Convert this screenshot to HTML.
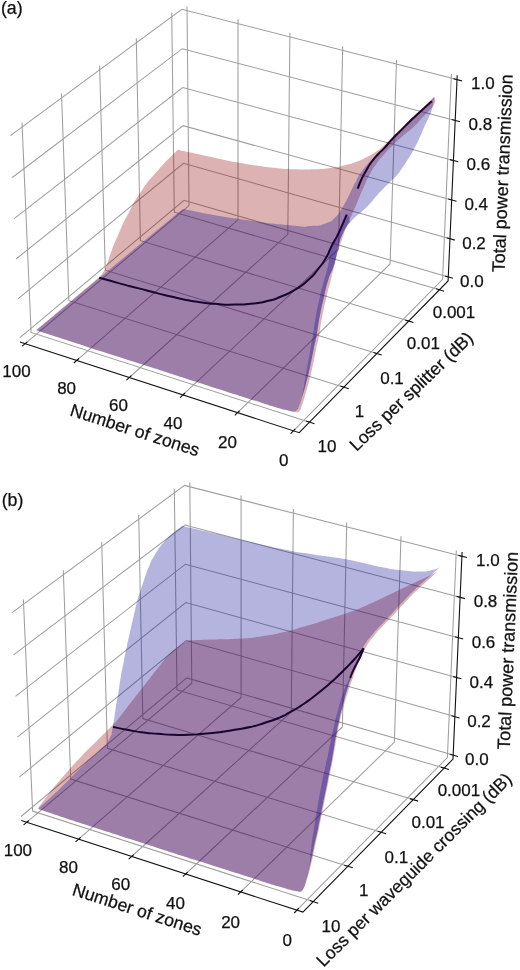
<!DOCTYPE html><html><head><meta charset="utf-8"><style>html,body{margin:0;padding:0;background:#fff}svg{display:block}</style></head><body><svg width="520" height="970" viewBox="0 0 520 970" font-family="Liberation Sans, Arial, sans-serif" font-size="15.5" fill="#111" stroke="#111" stroke-width="0.25">
<rect width="520" height="970" fill="#fff" stroke="none"/>
<g fill="none" stroke="#9e9e9e" stroke-width="1.05">
<polyline points="25.2,343.6 189.0,205.6 187.0,6.5"/>
<polyline points="76.8,360.4 238.0,219.8 238.0,19.5"/>
<polyline points="129.3,377.5 287.8,234.3 289.9,32.7"/>
<polyline points="182.9,394.9 338.5,249.0 342.7,46.2"/>
<polyline points="237.6,412.7 390.1,264.0 396.5,59.9"/>
<polyline points="293.4,430.8 442.6,279.3 451.4,73.9"/>
<polyline points="309.5,422.2 31.1,332.4 22.0,122.6"/>
<polyline points="343.8,387.2 68.9,300.7 61.5,93.5"/>
<polyline points="376.9,353.5 105.3,270.2 99.6,65.5"/>
<polyline points="408.7,321.1 140.4,240.7 136.3,38.6"/>
<polyline points="439.4,289.8 174.3,212.2 171.7,12.6"/>
<polyline points="448.3,276.9 184.0,200.3 19.7,337.8"/>
<polyline points="450.0,238.7 183.5,163.3 17.9,298.8"/>
<polyline points="451.7,199.9 183.1,125.7 16.0,259.0"/>
<polyline points="453.4,160.5 182.7,87.5 14.2,218.6"/>
<polyline points="455.2,120.4 182.3,48.7 12.3,177.5"/>
<polyline points="457.0,79.6 181.8,9.3 10.3,135.7"/>
</g>
<path d="M177.5,149.8 L177.5,149.8 C184.5,151.3 185.1,151.3 198.5,154.2 C211.9,157.1 204.9,155.7 217.7,158.4 C230.5,161.1 224.1,159.9 236.9,162.3 C249.7,164.7 243.4,163.7 256.2,165.6 C269.0,167.5 262.6,166.8 275.4,168.0 C288.2,169.2 281.8,168.9 294.6,169.3 C307.4,169.7 302.0,169.7 313.8,169.3 C325.6,168.9 319.6,169.3 330.0,168.0 C340.4,166.7 336.0,167.4 345.0,165.3 C354.0,163.2 349.8,164.3 357.0,161.6 C364.2,158.9 360.1,160.6 366.5,157.3 C372.9,154.0 370.3,155.8 376.3,151.6 C382.3,147.4 379.0,149.7 384.5,144.7 C390.0,139.7 387.2,141.9 392.7,136.5 C398.2,131.1 395.5,133.9 400.9,128.6 C406.3,123.3 403.6,125.9 409.0,120.7 C414.4,115.5 411.7,118.0 417.2,112.9 C422.7,107.8 419.7,110.8 425.4,105.4 C431.1,100.0 431.4,99.7 434.4,96.8 L434.4,96.8 C434.4,99.1 436.3,99.0 434.4,103.8 C432.5,108.6 432.7,106.6 428.6,111.2 C424.5,115.8 427.0,112.5 422.1,117.7 C417.2,122.9 420.3,120.7 413.9,126.7 C407.5,132.7 410.1,129.4 403.0,135.7 C395.9,142.0 398.8,139.2 392.5,145.5 C386.2,151.8 389.2,148.7 384.0,154.5 C378.8,160.3 381.6,156.7 377.0,163.0 C372.4,169.3 374.6,165.8 370.3,173.5 C366.0,181.2 367.8,178.3 364.2,186.0 C360.6,193.7 362.5,189.7 359.6,196.5 C356.7,203.3 358.4,199.8 355.5,206.5 C352.6,213.2 354.1,209.5 351.0,216.5 C347.9,223.5 349.4,219.8 346.3,227.6 C343.2,235.4 344.4,232.5 341.8,240.0 C339.2,247.5 340.7,242.4 338.5,250.0 C336.3,257.6 337.6,252.8 335.1,262.7 C332.6,272.6 333.7,268.3 330.9,279.6 C328.1,290.9 329.4,284.5 326.6,296.5 C323.8,308.5 324.9,302.9 322.4,315.6 C319.9,328.3 321.3,323.3 319.2,334.6 C317.1,345.9 318.5,338.0 316.1,349.4 C313.7,360.8 314.7,357.2 312.1,368.8 C309.5,380.4 310.9,374.6 308.3,384.2 C305.7,393.8 306.6,390.2 304.4,397.7 C302.2,405.2 303.1,402.4 301.6,406.6 C300.1,410.8 301.3,408.5 300.0,410.4 C298.7,412.3 298.4,411.7 297.6,412.3 L297.6,412.3 C296.4,412.2 296.6,412.4 294.0,411.9 C291.4,411.4 295.8,412.4 289.7,410.9 C283.6,409.4 289.7,411.5 275.8,407.3 C261.9,403.1 275.5,407.2 248.1,398.4 C220.7,389.6 229.6,392.5 193.6,380.9 C157.6,369.3 175.5,375.0 140.2,363.7 C104.9,352.4 113.8,355.3 87.7,346.9 C61.6,338.5 79.0,344.1 61.9,338.5 C44.8,332.9 44.8,333.0 36.3,330.2 L74.0,298.4 L100.0,276.5 L100.0,276.5 C101.9,273.5 101.7,276.1 105.6,267.5 C109.5,258.9 107.2,262.1 111.6,250.8 C116.0,239.5 113.1,246.1 118.8,233.5 C124.5,220.9 120.9,227.4 128.6,213.1 C136.3,198.8 131.8,205.0 141.8,190.6 C151.8,176.2 146.6,183.3 158.5,169.8 C170.4,156.3 171.2,156.7 177.5,150.1 Z" fill="#8b0000" fill-opacity="0.3" stroke="none"/>
<path d="M36.3,330.1 L36.3,330.1 L182.7,208.9 L182.7,208.9 C200.5,212.1 200.2,213.1 236.0,218.5 C271.8,223.9 264.9,222.7 290.0,225.2 C315.1,227.7 299.2,226.6 311.2,226.0 C323.2,225.4 317.9,226.3 326.0,223.3 C334.1,220.3 330.7,221.3 335.5,217.0 C340.3,212.7 337.6,214.7 340.5,210.5 C343.4,206.3 341.9,208.6 344.2,204.5 C346.5,200.4 345.1,203.0 347.5,198.3 C349.9,193.6 348.5,196.1 351.3,190.4 C354.1,184.7 352.9,187.0 356.0,181.2 C359.1,175.4 357.3,178.1 360.6,173.1 C363.9,168.1 362.5,170.2 365.8,166.2 C369.1,162.2 366.9,164.6 370.4,161.0 C373.9,157.4 371.5,160.1 376.2,155.4 C380.9,150.7 379.0,152.9 384.5,147.0 C390.0,141.1 387.2,143.6 392.7,137.8 C398.2,132.0 395.5,135.0 400.9,129.6 C406.3,124.2 403.6,126.8 409.0,121.5 C414.4,116.2 411.7,118.7 417.2,113.6 C422.7,108.5 419.7,111.9 425.4,106.3 C431.1,100.7 431.4,100.0 434.4,96.8 L434.4,96.8 C433.6,101.0 433.8,102.5 431.9,109.5 C430.0,116.5 431.2,111.7 428.6,117.7 C426.0,123.7 427.2,120.4 424.0,127.5 C420.8,134.6 422.6,131.3 419.0,138.9 C415.4,146.5 417.1,143.3 413.2,150.4 C409.3,157.5 411.0,154.2 407.3,160.2 C403.6,166.2 405.4,163.4 402.0,168.3 C398.6,173.2 401.1,170.4 397.1,175.0 C393.1,179.6 394.7,177.3 390.0,182.0 C385.3,186.7 387.6,184.3 383.0,189.0 C378.4,193.7 380.5,191.4 376.2,196.2 C371.9,201.0 374.8,198.4 370.0,203.5 C365.2,208.6 366.5,207.3 361.9,211.5 C357.3,215.7 360.0,212.7 356.2,216.2 C352.4,219.7 353.9,218.1 350.4,221.9 C346.9,225.7 348.5,223.5 345.8,227.7 C343.1,231.9 344.2,230.4 342.3,234.6 C340.4,238.8 341.3,236.5 340.0,240.4 C338.7,244.3 339.3,242.4 338.3,246.2 C337.3,250.0 338.1,247.3 337.1,251.9 C336.1,256.5 336.9,254.4 335.4,260.0 C333.9,265.6 335.0,262.3 332.7,268.8 C330.4,275.3 331.3,270.4 328.4,279.6 C325.5,288.8 326.9,284.5 324.1,296.5 C321.3,308.5 322.4,302.9 319.9,315.6 C317.4,328.3 318.8,323.3 316.7,334.6 C314.6,345.9 316.0,338.0 313.6,349.4 C311.2,360.8 312.2,357.2 309.6,368.8 C307.0,380.4 308.4,374.6 305.8,384.2 C303.2,393.8 304.2,390.3 301.9,397.7 C299.6,405.1 300.6,402.2 299.0,406.3 C297.4,410.4 298.7,408.3 297.0,410.0 C295.3,411.7 295.0,410.9 294.0,411.4 L294.0,411.4 C292.6,411.2 295.8,412.3 289.7,410.9 C283.6,409.5 289.7,411.5 275.8,407.3 C261.9,403.1 275.5,407.2 248.1,398.4 C220.7,389.6 229.6,392.5 193.6,380.9 C157.6,369.3 175.5,375.0 140.2,363.7 C104.9,352.4 113.8,355.3 87.7,346.9 C61.6,338.5 79.0,344.1 61.9,338.5 C44.8,332.9 44.8,333.0 36.3,330.2 Z" fill="#0a0596" fill-opacity="0.3" stroke="none"/>
<path d="M350.4,221.9 L350.4,221.9 C349.2,219.4 349.0,214.1 346.7,214.5 C344.4,214.9 346.1,216.8 343.5,223.1 C340.9,229.4 342.3,226.6 338.8,233.5 C335.3,240.4 336.2,237.5 333.1,243.8 C330.0,250.1 330.9,246.4 329.5,252.5 C328.1,258.6 329.8,255.5 328.8,262.0 C327.8,268.5 328.2,265.3 326.5,272.0 C324.8,278.7 325.8,273.8 323.6,282.0 C321.4,290.2 322.5,285.3 320.0,296.5 C317.5,307.7 318.3,302.9 316.0,315.6 C313.7,328.3 315.0,323.3 313.1,334.6 C311.2,345.9 312.4,338.0 310.4,349.4 C308.4,360.8 309.1,357.2 307.0,368.8 C304.9,380.4 305.9,374.6 304.2,384.2 C302.5,393.8 302.7,393.2 301.9,397.7 L301.9,397.7 C303.2,393.2 303.2,393.8 305.8,384.2 C308.4,374.6 307.0,380.4 309.6,368.8 C312.2,357.2 311.2,360.8 313.6,349.4 C316.0,338.0 314.6,345.9 316.7,334.6 C318.8,323.3 317.4,328.3 319.9,315.6 C322.4,302.9 321.3,308.5 324.1,296.5 C326.9,284.5 325.5,288.8 328.4,279.6 C331.3,270.4 330.4,275.3 332.7,268.8 C335.0,262.3 333.9,265.6 335.4,260.0 C336.9,254.4 336.1,256.5 337.1,251.9 C338.1,247.3 337.3,250.0 338.3,246.2 C339.3,242.4 338.7,244.3 340.0,240.4 C341.3,236.5 340.4,238.8 342.3,234.6 C344.2,230.4 343.1,231.9 345.8,227.7 C348.5,223.5 348.9,223.8 350.4,221.9 Z" fill="#0a0596" fill-opacity="0.3" stroke="none"/>
<g fill="none" stroke="#1a0530" stroke-width="2.0" stroke-linecap="butt"><path d="M99.2,277.7 C105.6,279.5 105.7,279.6 118.5,283.1 C131.3,286.6 124.9,284.8 137.7,288.1 C150.5,291.4 144.1,289.9 156.9,293.1 C169.7,296.3 163.4,294.9 176.2,297.7 C189.0,300.5 182.6,299.5 195.4,301.5 C208.2,303.5 201.8,302.8 214.6,303.8 C227.4,304.8 221.0,304.7 233.8,304.6 C246.6,304.5 241.5,304.8 253.1,303.5 C264.7,302.2 259.1,303.1 268.5,300.8 C277.9,298.5 272.0,300.4 281.2,296.5 C290.4,292.6 286.8,294.7 296.0,289.1 C305.2,283.5 301.3,286.3 308.7,279.6 C316.1,272.9 312.6,276.0 318.2,269.0 C323.8,262.0 321.7,264.8 325.6,258.5 C329.5,252.2 327.6,254.6 329.8,250.0 C332.0,245.4 329.7,249.6 332.3,244.6 C334.9,239.6 334.1,242.1 337.6,235.1 C341.1,228.1 339.9,230.3 342.9,223.5 C345.9,216.7 345.4,217.6 346.7,214.6"/><path d="M357.7,188.7 C358.9,185.8 358.5,185.8 361.2,180.0 C363.9,174.2 362.4,177.3 365.8,171.3 C369.2,165.3 367.3,167.8 371.5,162.0 C375.7,156.2 374.2,158.5 378.5,153.8 C382.8,149.1 379.8,153.0 384.5,147.9 C389.2,142.8 387.2,144.4 392.7,138.6 C398.2,132.8 395.5,135.8 400.9,130.4 C406.3,125.0 403.6,127.6 409.0,122.3 C414.4,117.0 411.7,119.5 417.2,114.4 C422.7,109.3 420.5,111.5 425.4,107.1 C430.3,102.7 429.7,103.2 431.9,101.3"/></g>
<g fill="none" stroke="#111" stroke-width="1.1">
<polyline points="19.9,341.9 299.2,432.7 448.1,280.9 457.2,75.3"/>
<polyline points="27.3,341.8 22.1,346.2"/>
<polyline points="78.9,358.5 73.8,363.0"/>
<polyline points="131.4,375.6 126.4,380.1"/>
<polyline points="185.0,393.0 180.1,397.6"/>
<polyline points="239.6,410.7 234.8,415.4"/>
<polyline points="295.3,428.8 290.6,433.6"/>
<polyline points="306.0,421.1 314.5,423.8"/>
<polyline points="340.4,386.1 348.8,388.8"/>
<polyline points="373.5,352.5 381.7,355.0"/>
<polyline points="405.3,320.1 413.5,322.5"/>
<polyline points="436.1,288.8 444.1,291.2"/>
<polyline points="445.0,276.0 453.0,278.3"/>
<polyline points="446.7,237.8 454.8,240.1"/>
<polyline points="448.3,199.0 456.5,201.2"/>
<polyline points="450.0,159.6 458.3,161.8"/>
<polyline points="451.8,119.5 460.1,121.7"/>
<polyline points="453.5,78.7 461.9,80.9"/>
</g>
<g fill="none" stroke="#9e9e9e" stroke-width="1.05">
<polyline points="26.6,822.3 191.8,683.2 189.8,482.5"/>
<polyline points="78.6,839.2 241.1,697.5 241.1,495.6"/>
<polyline points="131.6,856.5 291.3,712.1 293.4,508.9"/>
<polyline points="185.7,874.0 342.4,727.0 346.7,522.5"/>
<polyline points="240.8,891.9 394.4,742.1 401.0,536.3"/>
<polyline points="296.9,910.2 447.4,757.5 456.3,550.4"/>
<polyline points="313.2,901.6 32.6,811.0 23.4,599.6"/>
<polyline points="347.8,866.3 70.7,779.1 63.3,570.3"/>
<polyline points="381.1,832.3 107.4,748.3 101.7,542.0"/>
<polyline points="413.2,799.6 142.8,718.6 138.7,514.9"/>
<polyline points="444.2,768.1 177.0,689.9 174.3,488.7"/>
<polyline points="453.1,755.1 186.7,677.9 21.1,816.5"/>
<polyline points="454.8,716.6 186.3,640.6 19.3,777.1"/>
<polyline points="456.6,677.5 185.8,602.6 17.4,737.1"/>
<polyline points="458.3,637.7 185.4,564.2 15.5,696.3"/>
<polyline points="460.1,597.3 185.0,525.1 13.6,654.9"/>
<polyline points="461.9,556.2 184.5,485.4 11.7,612.8"/>
</g>
<path d="M187.8,640.5 L187.8,640.5 C196.2,640.2 195.6,640.2 213.0,639.6 C230.4,639.0 223.7,639.7 240.0,638.6 C256.3,637.5 247.3,638.4 262.0,636.2 C276.7,634.0 269.5,635.4 284.2,632.0 C298.9,628.6 291.2,630.3 306.0,626.0 C320.8,621.7 313.6,623.7 328.5,619.0 C343.4,614.3 336.2,617.1 350.6,611.8 C365.0,606.5 357.6,609.3 371.7,603.0 C385.8,596.7 378.8,599.7 392.9,593.0 C407.0,586.3 400.6,589.4 414.0,583.0 C427.4,576.6 424.6,578.3 433.1,573.8 C441.6,569.3 437.3,570.9 439.4,569.5 L439.4,569.5 C435.9,572.9 435.8,573.1 428.8,579.6 C421.8,586.1 425.3,582.4 418.3,589.1 C411.3,595.8 414.8,592.4 407.7,599.7 C400.6,607.0 403.7,604.0 397.1,611.0 C390.5,618.0 393.2,615.1 387.9,620.7 C382.6,626.3 385.5,623.0 381.1,627.8 C376.7,632.6 378.8,630.2 374.8,635.0 C370.8,639.8 372.5,637.1 369.0,642.2 C365.5,647.3 367.2,644.7 364.3,650.3 C361.4,655.9 363.0,652.9 360.3,659.0 C357.6,665.1 358.7,662.2 356.2,668.5 C353.7,674.8 355.1,671.6 352.9,677.9 C350.7,684.2 352.4,678.4 349.5,687.3 C346.6,696.2 347.2,694.2 344.2,704.6 C341.2,715.0 342.7,709.3 340.5,718.5 C338.3,727.7 339.5,723.1 337.7,732.3 C335.9,741.5 336.7,737.5 335.2,746.2 C333.7,754.9 335.3,746.7 333.1,758.5 C330.9,770.3 331.6,766.1 328.5,781.5 C325.4,796.9 326.9,789.2 323.8,804.6 C320.7,820.0 322.3,813.1 319.2,827.7 C316.1,842.3 317.5,835.4 314.6,848.5 C311.7,861.6 313.2,856.1 310.5,866.9 C307.8,877.7 308.7,873.8 306.5,880.8 C304.3,887.8 305.6,884.3 303.8,888.0 C302.0,891.7 301.9,890.7 301.0,892.0 L301.0,892.0 C298.4,891.5 300.6,892.4 293.3,890.6 C286.0,888.8 293.2,890.9 279.2,886.6 C265.2,882.3 279.0,886.6 251.4,877.8 C223.8,869.0 232.7,871.9 196.4,860.3 C160.1,848.7 178.1,854.4 142.5,842.9 C106.9,831.4 116.0,834.4 89.7,825.9 C63.4,817.4 80.7,823.1 63.6,817.4 C46.5,811.7 46.9,811.7 38.5,808.9 L38.5,807.5 C42.6,802.2 41.6,803.0 50.8,791.5 C60.0,780.0 56.0,784.9 66.2,773.1 C76.4,761.3 71.3,767.0 81.5,756.2 C91.7,745.4 86.6,751.1 96.9,740.8 C107.2,730.5 105.9,731.8 112.3,725.4 C118.7,719.0 111.3,727.4 116.2,721.5 C121.1,715.6 119.7,716.9 126.9,707.7 C134.1,698.5 130.5,703.0 137.7,693.8 C144.9,684.6 141.2,689.3 148.5,680.0 C155.8,670.7 152.3,674.8 159.5,666.0 C166.7,657.2 163.8,659.8 170.0,653.5 C176.2,647.2 172.1,651.4 178.0,647.2 C183.9,643.0 184.5,642.9 187.8,640.8 Z" fill="#8b0000" fill-opacity="0.3" stroke="none"/>
<path d="M38.5,808.5 L38.5,808.5 C45.7,801.8 45.7,802.4 60.0,788.5 C74.3,774.6 68.2,779.7 81.5,766.9 C94.8,754.1 90.8,759.2 100.0,750.0 C109.2,740.8 105.0,746.9 109.2,739.2 C113.4,731.5 110.5,737.5 112.7,727.0 C114.9,716.5 113.9,719.3 115.8,707.7 C117.7,696.1 116.8,702.6 118.5,692.3 C120.2,682.0 119.0,687.2 120.8,676.9 C122.6,666.6 121.8,671.7 123.8,661.5 C125.8,651.3 124.7,656.4 126.9,646.2 C129.1,636.0 128.0,641.1 130.3,630.8 C132.6,620.5 131.5,625.3 133.8,615.4 C136.1,605.5 135.3,608.4 137.3,601.0 C139.3,593.6 137.5,600.4 139.8,593.1 C142.1,585.8 141.1,588.4 144.3,579.2 C147.5,570.0 145.6,574.1 149.5,565.4 C153.4,556.7 151.2,560.8 156.0,553.1 C160.8,545.4 158.1,549.0 163.8,542.3 C169.5,535.6 166.9,538.5 173.1,533.1 C179.3,527.7 179.2,528.4 182.3,526.0 L182.3,526.0 C192.6,528.4 193.9,528.6 213.1,533.1 C232.3,537.6 216.3,534.0 240.0,539.5 C263.7,545.0 260.2,544.6 284.2,549.5 C308.2,554.4 293.4,551.3 312.0,554.2 C330.6,557.1 323.6,555.5 340.0,558.3 C356.4,561.1 347.1,559.5 361.2,562.5 C375.3,565.5 368.2,564.6 382.3,567.3 C396.4,570.0 390.8,569.1 403.5,570.5 C416.2,571.9 411.2,571.7 420.4,571.6 C429.6,571.5 424.7,571.7 431.0,570.3 C437.3,568.9 436.6,568.4 439.4,567.5 L439.4,567.5 C434.9,571.5 434.0,572.4 426.0,579.6 C418.0,586.8 422.5,582.4 415.5,589.1 C408.5,595.8 412.0,592.4 404.9,599.7 C397.8,607.0 400.9,604.0 394.3,611.0 C387.7,618.0 390.4,615.1 385.1,620.7 C379.8,626.3 382.7,623.0 378.3,627.8 C373.9,632.6 376.0,630.2 372.0,635.0 C368.0,639.8 369.7,637.1 366.3,642.2 C362.8,647.3 364.5,644.7 361.7,650.3 C359.0,655.9 360.5,652.9 358.0,659.0 C355.4,665.1 356.4,662.2 354.1,668.5 C351.8,674.8 353.1,671.6 351.0,677.9 C348.9,684.2 350.5,678.4 347.8,687.3 C345.1,696.2 345.7,694.2 343.0,704.6 C340.2,715.0 341.6,709.3 339.5,718.5 C337.4,727.7 338.5,723.1 336.7,732.3 C334.9,741.5 335.7,737.5 334.2,746.2 C332.7,754.9 334.3,746.7 332.1,758.5 C329.9,770.3 330.6,766.1 327.5,781.5 C324.4,796.9 325.9,789.2 322.8,804.6 C319.7,820.0 321.3,813.1 318.2,827.7 C315.1,842.3 316.4,835.4 313.6,848.5 C310.8,861.6 312.2,856.1 309.7,866.9 C307.2,877.7 308.2,873.8 306.1,880.8 C304.1,887.8 305.7,884.3 303.7,888.0 C301.7,891.7 301.4,890.5 300.2,891.8 L300.2,891.8 C297.9,891.4 300.3,892.3 293.3,890.6 C286.3,888.9 293.2,890.9 279.2,886.6 C265.2,882.3 279.0,886.6 251.4,877.8 C223.8,869.0 232.7,871.9 196.4,860.3 C160.1,848.7 178.1,854.4 142.5,842.9 C106.9,831.4 116.0,834.4 89.7,825.9 C63.4,817.4 80.7,823.1 63.6,817.4 C46.5,811.7 46.9,811.7 38.5,808.9 Z" fill="#0a0596" fill-opacity="0.3" stroke="none"/>
<path d="M363.6,648.3 L363.6,648.3 C362.7,650.5 363.2,650.1 361.0,655.0 C358.8,659.9 359.6,657.7 356.9,663.1 C354.2,668.5 355.7,665.5 352.9,671.1 C350.1,676.7 351.6,673.0 348.5,680.0 C345.4,687.0 346.8,682.7 343.5,692.0 C340.2,701.3 341.6,697.3 338.6,708.0 C335.6,718.7 337.0,713.3 334.5,724.0 C332.0,734.7 333.2,729.7 331.0,740.0 C328.8,750.3 329.8,746.3 328.0,755.0 C326.2,763.7 327.7,756.0 325.5,766.0 C323.3,776.0 324.3,770.7 321.5,785.0 C318.7,799.3 319.8,794.0 317.2,809.0 C314.6,824.0 315.8,817.0 313.8,830.0 C311.8,843.0 312.6,835.7 311.2,848.0 C309.8,860.3 310.1,860.6 309.5,866.9 L309.7,866.9 C311.0,860.8 310.8,861.6 313.6,848.5 C316.4,835.4 315.1,842.3 318.2,827.7 C321.3,813.1 319.7,820.0 322.8,804.6 C325.9,789.2 324.4,796.9 327.5,781.5 C330.6,766.1 329.9,770.3 332.1,758.5 C334.3,746.7 332.7,754.9 334.2,746.2 C335.7,737.5 334.9,741.5 336.7,732.3 C338.5,723.1 337.4,727.7 339.5,718.5 C341.6,709.3 340.2,715.0 343.0,704.6 C345.7,694.2 345.1,696.2 347.8,687.3 C350.5,678.4 348.9,684.2 351.0,677.9 C353.1,671.6 351.8,674.8 354.1,668.5 C356.4,662.2 355.4,665.1 358.0,659.0 C360.5,652.9 360.5,653.2 361.7,650.3 Z" fill="#0a0596" fill-opacity="0.3" stroke="none"/>
<g fill="none" stroke="#1a0530" stroke-width="2.0" stroke-linecap="butt"><path d="M113.1,726.9 C117.7,727.9 117.2,728.0 126.9,729.8 C136.6,731.6 132.0,731.0 142.3,732.3 C152.6,733.6 147.4,733.0 157.7,733.8 C168.0,734.6 162.8,734.5 173.1,734.8 C183.4,735.1 178.3,735.1 188.5,734.8 C198.7,734.5 193.6,734.6 203.8,733.8 C214.0,733.0 208.9,733.6 219.2,732.3 C229.5,731.0 224.3,731.5 234.6,729.8 C244.9,728.1 239.9,729.4 250.0,727.1 C260.1,724.8 255.0,726.1 265.0,722.8 C275.0,719.5 271.9,720.7 280.0,717.3 C288.1,713.9 282.3,716.5 289.2,712.7 C296.1,708.9 293.1,710.8 300.8,705.8 C308.5,700.8 304.6,703.5 312.3,697.7 C320.0,691.9 317.9,693.3 323.8,688.5 C329.7,683.7 325.7,687.1 330.0,683.3 C334.3,679.5 332.2,681.5 336.7,677.2 C341.2,672.9 339.0,675.0 343.5,670.5 C348.0,666.0 345.7,668.4 350.2,663.7 C354.7,659.0 352.4,661.4 356.9,656.3 C361.4,651.2 361.4,651.0 363.6,648.3"/><path d="M363.6,648.3 C362.7,650.5 363.2,650.1 361.0,655.0 C358.8,659.9 359.6,657.7 356.9,663.1 C354.2,668.5 355.1,666.2 352.9,671.1 C350.7,676.0 351.1,675.6 350.2,677.9"/></g>
<g fill="none" stroke="#111" stroke-width="1.1">
<polyline points="21.3,820.6 302.9,912.1 453.0,759.1 462.1,551.9"/>
<polyline points="28.8,820.5 23.6,824.9"/>
<polyline points="80.7,837.4 75.6,841.8"/>
<polyline points="133.7,854.6 128.7,859.1"/>
<polyline points="187.7,872.1 182.8,876.7"/>
<polyline points="242.8,890.0 237.9,894.7"/>
<polyline points="298.9,908.2 294.2,913.0"/>
<polyline points="309.7,900.4 318.2,903.2"/>
<polyline points="344.3,865.2 352.8,867.8"/>
<polyline points="377.7,831.3 386.0,833.8"/>
<polyline points="409.8,798.6 418.1,801.1"/>
<polyline points="440.8,767.1 448.9,769.5"/>
<polyline points="449.8,754.2 457.9,756.5"/>
<polyline points="451.5,715.7 459.6,718.0"/>
<polyline points="453.2,676.6 461.4,678.8"/>
<polyline points="454.9,636.8 463.2,639.0"/>
<polyline points="456.6,596.4 465.0,598.6"/>
<polyline points="458.4,555.4 466.9,557.5"/>
</g>
<text x="16.5" y="376.7" font-size="17.0" text-anchor="middle">100</text>
<text x="66.6" y="393.7" font-size="17.0" text-anchor="middle">80</text>
<text x="118.5" y="411.2" font-size="17.0" text-anchor="middle">60</text>
<text x="172.9" y="429.2" font-size="17.0" text-anchor="middle">40</text>
<text x="227.5" y="448.0" font-size="17.0" text-anchor="middle">20</text>
<text x="283.8" y="465.9" font-size="17.0" text-anchor="middle">0</text>
<text x="327.0" y="452.2" font-size="17.0" text-anchor="middle">10</text>
<text x="359.6" y="416.9" font-size="17.0" text-anchor="middle">1</text>
<text x="392.0" y="383.6" font-size="17.0" text-anchor="middle">0.1</text>
<text x="423.4" y="349.4" font-size="17.0" text-anchor="middle">0.01</text>
<text x="454.0" y="317.7" font-size="17.0" text-anchor="middle">0.001</text>
<text x="482.8" y="89.2" font-size="17.0" text-anchor="middle">1.0</text>
<text x="480.4" y="130.1" font-size="17.0" text-anchor="middle">0.8</text>
<text x="478.4" y="170.4" font-size="17.0" text-anchor="middle">0.6</text>
<text x="476.2" y="210.1" font-size="17.0" text-anchor="middle">0.4</text>
<text x="474.0" y="249.0" font-size="17.0" text-anchor="middle">0.2</text>
<text x="471.8" y="286.8" font-size="17.0" text-anchor="middle">0.0</text>
<text x="133.1" y="435.8" font-size="17.7" text-anchor="middle" transform="rotate(17.80 133.1 435.8)">Number of zones</text>
<text x="415.4" y="395.7" font-size="17.7" text-anchor="middle" transform="rotate(-43.70 415.4 395.7)">Loss per splitter (dB)</text>
<text x="508.6" y="173.5" font-size="18.0" text-anchor="middle" transform="rotate(-87.60 508.6 173.5)">Total power transmission</text>
<text x="0.9" y="14.1" font-size="17.8" text-anchor="start">(a)</text>
<text x="17.9" y="855.6" font-size="17.0" text-anchor="middle">100</text>
<text x="68.4" y="872.8" font-size="17.0" text-anchor="middle">80</text>
<text x="120.7" y="890.4" font-size="17.0" text-anchor="middle">60</text>
<text x="175.5" y="908.5" font-size="17.0" text-anchor="middle">40</text>
<text x="230.6" y="927.5" font-size="17.0" text-anchor="middle">20</text>
<text x="287.3" y="945.5" font-size="17.0" text-anchor="middle">0</text>
<text x="330.9" y="931.7" font-size="17.0" text-anchor="middle">10</text>
<text x="363.7" y="896.2" font-size="17.0" text-anchor="middle">1</text>
<text x="396.4" y="862.6" font-size="17.0" text-anchor="middle">0.1</text>
<text x="428.0" y="828.1" font-size="17.0" text-anchor="middle">0.01</text>
<text x="458.9" y="796.2" font-size="17.0" text-anchor="middle">0.001</text>
<text x="487.9" y="565.8" font-size="17.0" text-anchor="middle">1.0</text>
<text x="485.5" y="607.1" font-size="17.0" text-anchor="middle">0.8</text>
<text x="483.5" y="647.7" font-size="17.0" text-anchor="middle">0.6</text>
<text x="481.3" y="687.7" font-size="17.0" text-anchor="middle">0.4</text>
<text x="479.0" y="726.9" font-size="17.0" text-anchor="middle">0.2</text>
<text x="476.8" y="765.0" font-size="17.0" text-anchor="middle">0.0</text>
<text x="135.4" y="915.3" font-size="17.7" text-anchor="middle" transform="rotate(17.80 135.4 915.3)">Number of zones</text>
<text x="418.2" y="874.0" font-size="17.7" text-anchor="middle" transform="rotate(-44.70 418.2 874.0)">Loss per waveguide crossing (dB)</text>
<text x="513.9" y="650.9" font-size="18.0" text-anchor="middle" transform="rotate(-87.60 513.9 650.9)">Total power transmission</text>
<text x="1.7" y="505.6" font-size="17.8" text-anchor="start">(b)</text>
</svg></body></html>
